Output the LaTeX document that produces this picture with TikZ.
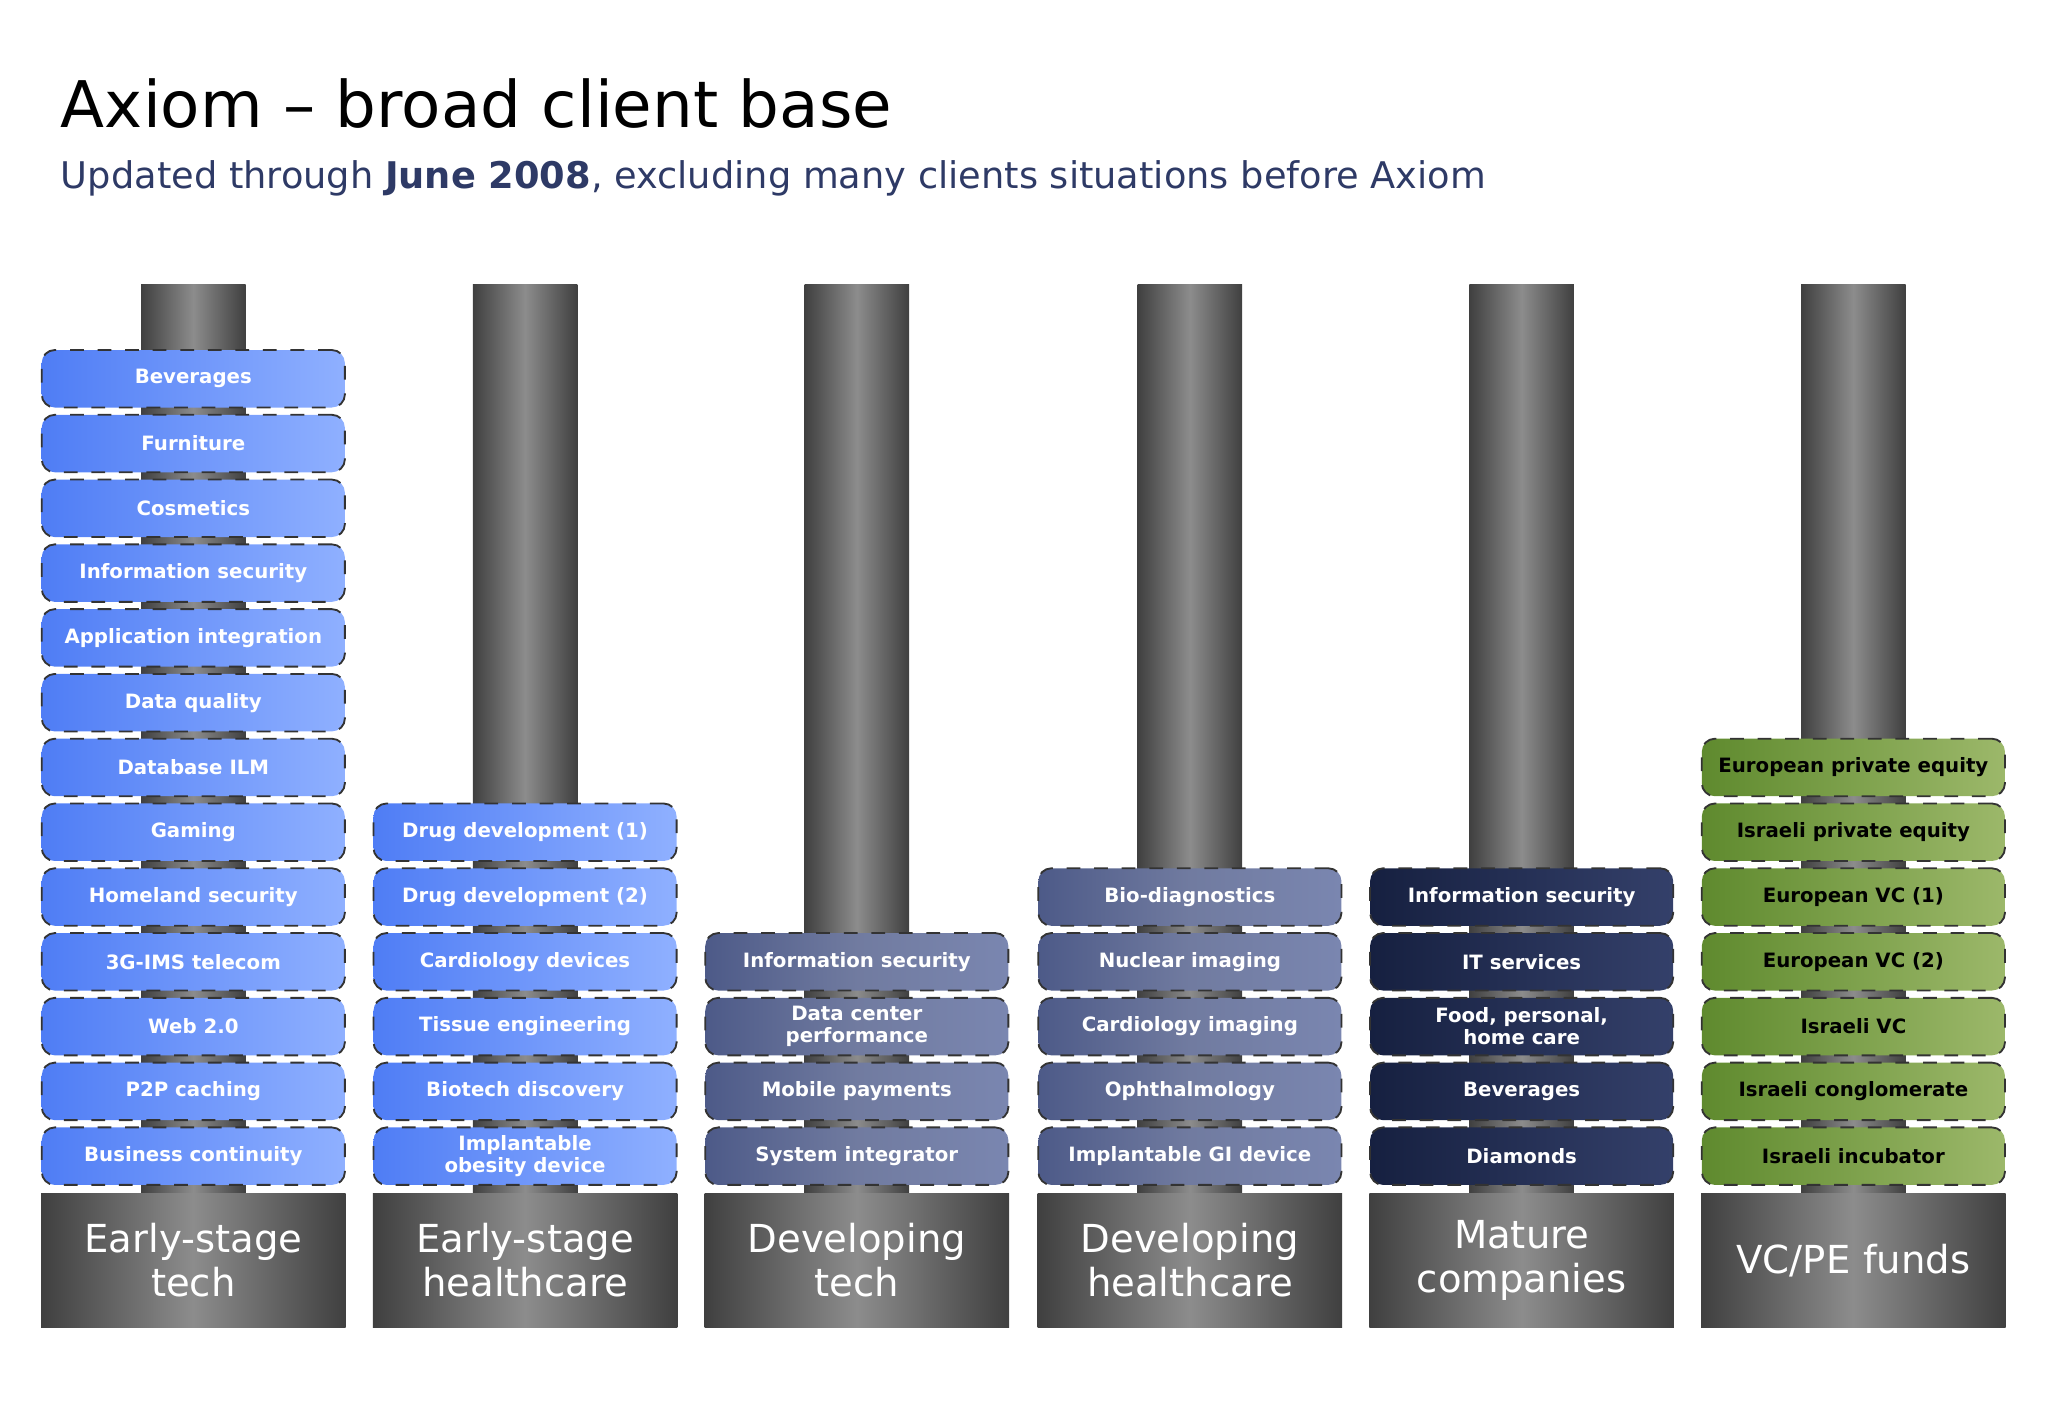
\documentclass[tikz,border=0pt]{standalone}
\usepackage{fontspec}
\setmainfont{DejaVu Sans}
\usetikzlibrary{positioning}
\definecolor{titleblue}{HTML}{2E3A66}
\definecolor{earlyA}{HTML}{4F7DF5}
\definecolor{earlyB}{HTML}{8FB0FF}
\definecolor{devA}{HTML}{4D5A88}
\definecolor{devB}{HTML}{7A86B0}
\definecolor{matA}{HTML}{162040}
\definecolor{matB}{HTML}{34406A}
\definecolor{vcA}{HTML}{5F8A2E}
\definecolor{vcB}{HTML}{9CB86A}
\tikzset{
  pillar/.style={left color=black!75, right color=black!75, middle color=black!45, draw=none},
  base/.style={pillar, minimum width=2.33cm, minimum height=1.03cm, text width=2.3cm,
    inner sep=0pt, text=white, font=\fontsize{8.4}{9.6}\selectfont, align=center},
  client/.style={rounded corners=0.1cm, draw=black!80, dashed, line width=0.4pt,
    minimum width=2.32cm, minimum height=0.44cm, text=white, inner sep=0pt,
    font=\fontsize{4.3}{4.8}\selectfont\bfseries, align=center},
  early/.style={client, left color=earlyA, right color=earlyB},
  dev/.style={client, left color=devA, right color=devB, middle color=devA!80!white},
  mature/.style={client, left color=matA, right color=matB},
  vc/.style={client, left color=vcA, right color=vcB, text=black}
}
\begin{document}
\begin{tikzpicture}[x=0.01cm, y=-0.01cm]
  \useasboundingbox (0,0) rectangle (1568,1086);
  \node[anchor=base west, inner sep=0pt, font=\fontsize{14}{16}\selectfont] (title) at (46,98) {Axiom – broad client base};
  \node[anchor=base west, inner sep=0pt, font=\fontsize{8}{9}\selectfont, text=titleblue] (sub) at (46,144)
    {Updated through \textbf{June 2008}, excluding many clients situations before Axiom};

  % pillars and bases
  \foreach \i/\x/\txt in {1/148/{Early-stage\\tech}, 2/402/{Early-stage\\healthcare},
      3/656/{Developing\\tech}, 4/911/{Developing\\healthcare},
      5/1165/{Mature\\companies}, 6/1419/{VC/PE funds}} {
    \fill[pillar] (\x-40,218) rectangle (\x+40,914);
    \node[base] (base\i) at (\x,965) {\txt};
  }

  % clients, row 0 at top
  \foreach \r/\txt in {0/Beverages, 1/Furniture, 2/Cosmetics, 3/Information security,
      4/Application integration, 5/Data quality, 6/Database ILM, 7/Gaming,
      8/Homeland security, 9/3G-IMS telecom, 10/Web 2.0, 11/P2P caching, 12/Business continuity}
    \node[early] (ea\r) at (148,290+49.6*\r) {\txt};
  \foreach \r/\txt in {7/Drug development (1), 8/Drug development (2), 9/Cardiology devices,
      10/Tissue engineering, 11/Biotech discovery, 12/{Implantable\\obesity device}}
    \node[early] (eh\r) at (402,290+49.6*\r) {\txt};
  \foreach \r/\txt in {9/Information security, 10/{Data center\\performance},
      11/Mobile payments, 12/System integrator}
    \node[dev] (dt\r) at (656,290+49.6*\r) {\txt};
  \foreach \r/\txt in {8/Bio-diagnostics, 9/Nuclear imaging, 10/Cardiology imaging,
      11/Ophthalmology, 12/Implantable GI device}
    \node[dev] (dh\r) at (911,290+49.6*\r) {\txt};
  \foreach \r/\txt in {8/Information security, 9/IT services, 10/{Food, personal,\\home care},
      11/Beverages, 12/Diamonds}
    \node[mature] (mc\r) at (1165,290+49.6*\r) {\txt};
  \foreach \r/\txt in {6/European private equity, 7/Israeli private equity, 8/European VC (1),
      9/European VC (2), 10/Israeli VC, 11/Israeli conglomerate, 12/Israeli incubator}
    \node[vc] (vc\r) at (1419,290+49.6*\r) {\txt};
\end{tikzpicture}
\end{document}
